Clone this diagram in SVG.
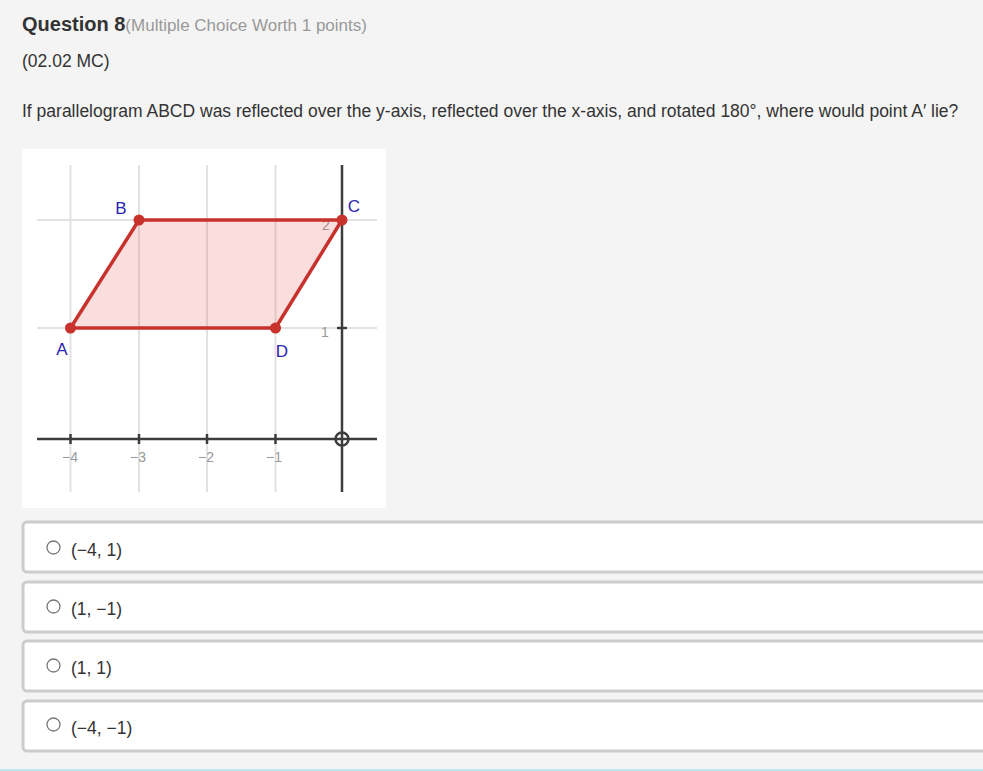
<svg xmlns="http://www.w3.org/2000/svg" width="983" height="771" viewBox="0 0 983 771">
<style>
text{font-family:"Liberation Sans",Arial,sans-serif}
.q{fill:#333;font-size:17.5px}
.grid{stroke:#e2e2e2;stroke-width:2}
.axis{stroke:#3d3d3d;stroke-width:2.5;fill:none}
.num{fill:#999;font-size:14px}
.lbl{fill:#2b24b0;font-size:17px}
.pt{fill:#c8322d}
.opt{fill:#fff;stroke:#cccccc;stroke-width:3}
.radio{fill:#fff;stroke:#777;stroke-width:1.3}
</style>
<rect width="983" height="771" fill="#f4f4f4"/>
<text x="22" y="31" style="font-size:20px;font-weight:bold;fill:#333">Question 8<tspan style="font-size:17px;font-weight:normal;fill:#999">(Multiple Choice Worth 1 points)</tspan></text>
<text class="q" x="22" y="67">(02.02 MC)</text>
<text class="q" x="22" y="117">If parallelogram ABCD was reflected over the y-axis, reflected over the x-axis, and rotated 180°, where would point A′ lie?</text>
<g id="graph">
<rect x="22" y="149" width="364" height="359" fill="#fff"/>
<g class="grid">
<line x1="70.5" y1="165" x2="70.5" y2="492"/>
<line x1="139" y1="165" x2="139" y2="492"/>
<line x1="207" y1="165" x2="207" y2="492"/>
<line x1="275.5" y1="165" x2="275.5" y2="492"/>
<line x1="37" y1="220" x2="377" y2="220"/>
<line x1="37" y1="328" x2="377" y2="328"/>
</g>
<g class="axis">
<line x1="37" y1="439" x2="377" y2="439"/>
<line x1="342" y1="165" x2="342" y2="492"/>
<line x1="70.5" y1="434" x2="70.5" y2="444"/>
<line x1="139" y1="434" x2="139" y2="444"/>
<line x1="207" y1="434" x2="207" y2="444"/>
<line x1="275.5" y1="434" x2="275.5" y2="444"/>
<line x1="337" y1="328" x2="347" y2="328"/>
<circle cx="342" cy="439" r="6.5"/>
</g>
<g class="num">
<text x="70" y="462" text-anchor="middle">−4</text>
<text x="138" y="462" text-anchor="middle">−3</text>
<text x="206" y="462" text-anchor="middle">−2</text>
<text x="274" y="462" text-anchor="middle">−1</text>
<text x="326" y="230" text-anchor="middle">2</text>
<text x="325" y="337" text-anchor="middle">1</text>
</g>
<polygon points="70.5,328 139,220 342,220 275.5,328" fill="#e8585a" fill-opacity="0.2" stroke="#c8322d" stroke-width="3.5" stroke-linejoin="round"/>
<g id="A"><circle class="pt" cx="70.5" cy="328" r="5.5"/><text class="lbl" x="62" y="355" text-anchor="middle">A</text></g>
<g id="B"><circle class="pt" cx="139" cy="220" r="5.5"/><text class="lbl" x="121" y="214" text-anchor="middle">B</text></g>
<g id="C"><circle class="pt" cx="342" cy="220" r="5.5"/><text class="lbl" x="354" y="212" text-anchor="middle">C</text></g>
<g id="D"><circle class="pt" cx="275.5" cy="328" r="5.5"/><text class="lbl" x="282" y="357" text-anchor="middle">D</text></g>
</g>
<g id="opt1"><rect class="opt" x="23" y="522" width="970" height="50" rx="4"/><circle class="radio" cx="53.5" cy="547.5" r="6.5"/><text class="q" x="71" y="556">(−4, 1)</text></g>
<g id="opt2"><rect class="opt" x="23" y="582" width="970" height="50" rx="4"/><circle class="radio" cx="53.5" cy="606.5" r="6.5"/><text class="q" x="71" y="615">(1, −1)</text></g>
<g id="opt3"><rect class="opt" x="23" y="641" width="970" height="50" rx="4"/><circle class="radio" cx="53.5" cy="665.5" r="6.5"/><text class="q" x="71" y="674">(1, 1)</text></g>
<g id="opt4"><rect class="opt" x="23" y="701" width="970" height="50" rx="4"/><circle class="radio" cx="53.5" cy="724.5" r="6.5"/><text class="q" x="71" y="734">(−4, −1)</text></g>
<line x1="0" y1="770" x2="983" y2="770" stroke="#bfe6f0" stroke-width="2"/>
</svg>
